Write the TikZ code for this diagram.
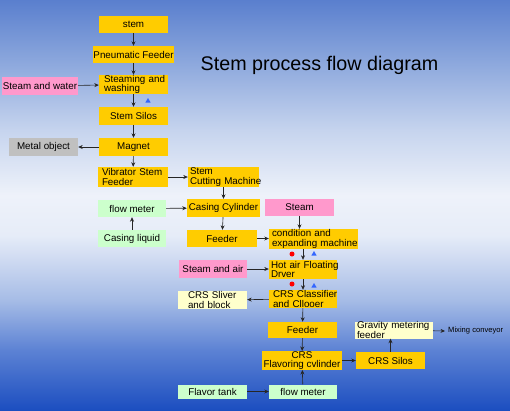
\documentclass[tikz,border=0pt]{standalone}
\usepackage{fontspec}
\setmainfont{Liberation Sans}
\usetikzlibrary{arrows.meta}

\definecolor{procyellow}{HTML}{FFCC00}
\definecolor{steampink}{HTML}{FF99CC}
\definecolor{metergreen}{HTML}{CCFFCC}
\definecolor{paleyellow}{HTML}{FFFFCC}
\definecolor{metalgrey}{HTML}{C0C0C0}
\definecolor{bgtop}{HTML}{5A7FCE}
\definecolor{bgupper}{HTML}{8AA6DC}
\definecolor{bglight}{HTML}{C6D4EE}
\definecolor{bgwhite}{HTML}{EEF2FA}
\definecolor{bgpale}{HTML}{E6ECF8}
\definecolor{bglower}{HTML}{A6BCE6}
\definecolor{bgmid}{HTML}{5C82D4}
\definecolor{bgdeep}{HTML}{1C4EC0}
\definecolor{tipblue}{HTML}{3366FF}

\pgfdeclareverticalshading{bgshade}{100bp}{color(0bp)=(bgdeep); color(25bp)=(bgdeep);
  color(32.3bp)=(bgmid); color(38.4bp)=(bglower); color(46.3bp)=(bgpale);
  color(51.2bp)=(bgwhite); color(59.1bp)=(bglight); color(67.7bp)=(bgupper);
  color(75bp)=(bgtop); color(100bp)=(bgtop)}

\newcommand{\boxfont}{\fontsize{9.8}{9.8}\selectfont\hbadness=10000\hfuzz=100pt}

\tikzset{
  box/.style={fill=procyellow, inner sep=0pt, font=\boxfont, text=black},
  lbox/.style={box, inner xsep=4pt, text width=#1, align=left},
  pinkbox/.style={box, fill=steampink},
  meterbox/.style={box, fill=metergreen},
  palebox/.style={box, fill=paleyellow},
  flow/.style={->, draw=black!85, line width=0.6pt},
  reddot/.style={circle, fill=red, inner sep=0pt, minimum size=5pt},
  bluetip/.style={regular polygon, regular polygon sides=3, fill=tipblue, inner sep=0pt, minimum size=6pt}
}
\usetikzlibrary{shapes.geometric}

\begin{document}
\begin{tikzpicture}[x=1pt, y=-1pt, >={Stealth[length=4.5pt,width=4pt]}]
		%background
		\shade[shading=bgshade] (0,0) rectangle (510,410);
		\useasboundingbox (0,0) rectangle (510,410);
		\node[font=\fontsize{19.7}{22}\selectfont, text=black] (title) at (319.5,65) {Stem process flow diagram};

		%first column
		\node[box, minimum width=69, minimum height=17] (stem) at (133.5,24.5) {stem};
		\node[box, minimum width=81, minimum height=17] (pneu) at (133.5,54.5) {Pneumatic Feeder};
		\node[lbox=59, inner xsep=5pt, minimum height=19] (steaming) at (133.5,84.5) {\mbox{Steaming and}\\washing};
		\node[pinkbox, minimum width=76, minimum height=18] (water) at (40,86) {Steam and water};
		\node[box, minimum width=69, minimum height=18] (silos) at (133.5,116) {Stem Silos};
		\node[box, minimum width=69, minimum height=18] (magnet) at (133.5,147) {Magnet};
		\node[box, fill=metalgrey, minimum width=69, minimum height=18] (metal) at (43.5,147) {Metal object};
		\node[lbox=62, minimum height=20] (vibrator) at (133,177) {\mbox{Vibrator Stem}\\Feeder};
		\node[meterbox, minimum width=68, minimum height=17] (meter) at (132,208.5) {flow meter};
		\node[meterbox, minimum width=68, minimum height=17] (liquid) at (132,238.5) {Casing liquid};

		%second column
		\node[lbox=67, inner xsep=2pt, minimum height=20] (cutting) at (223.5,177) {Stem\\\mbox{Cutting Machine}};
		\node[box, minimum width=73, minimum height=18] (cylinder) at (223.5,208) {Casing Cylinder};
		\node[box, minimum width=70, minimum height=17] (feeder) at (222,238.5) {Feeder};
		\node[pinkbox, minimum width=68, minimum height=18] (air) at (213,269) {Steam and air};
		\node[palebox, inner xsep=10pt, text width=49, align=left, minimum height=18] (sliver) at (212.5,300) {\mbox{CRS Sliver}\\\mbox{and block}};
		\node[meterbox, minimum width=69, minimum height=14] (tank) at (212.5,391.5) {Flavor tank};

		%third column
		\node[pinkbox, minimum width=69, minimum height=17] (steam) at (299.5,207.5) {Steam};
		\node[lbox=83, inner xsep=3pt, minimum height=20] (expand) at (313.5,239) {\mbox{condition and}\\\mbox{expanding machine}};
		\node[lbox=64, inner xsep=2pt, minimum height=19] (dryer) at (303,269.5) {\mbox{Hot air Floating}\\Drver};
		\node[lbox=60, minimum height=18] (classifier) at (303,299) {\mbox{CRS Classifier}\\\mbox{and Cllooer}};
		\node[box, minimum width=69, minimum height=16] (feedertwo) at (302.5,330) {Feeder};
		\node[box, minimum width=80, minimum height=17, align=center] (flavoring) at (302,360.5) {CRS\\Flavoring cvlinder};
		\node[meterbox, minimum width=68, minimum height=14] (metertwo) at (303,391.5) {flow meter};

		%fourth column
		\node[palebox, lbox=74, inner xsep=2pt, fill=paleyellow, minimum height=16] (gravity) at (394,330) {\mbox{Gravity metering}\\feeder};
		\node[box, minimum width=69, minimum height=17] (crssilos) at (390.5,360.5) {CRS Silos};
		\node[anchor=west, inner sep=0pt, font=\fontsize{7.6}{8}\selectfont, text=black] (mixing) at (448,331) {Mixing conveyor};

		%markers
		\node[bluetip] (tipa) at (148,101) {};
		\node[reddot] (dota) at (292,254) {};
		\node[bluetip] (tipb) at (314,254) {};
		\node[reddot] (dotb) at (292,284) {};
		\node[bluetip] (tipc) at (314,286) {};

		%arrows
		\draw[flow] (stem) -- (pneu);
		\draw[flow] (pneu) -- (steaming);
		\draw[flow] (water) -- (steaming);
		\draw[flow] (steaming) -- (silos);
		\draw[flow] (silos) -- (magnet);
		\draw[flow] (magnet) -- (metal);
		\draw[flow] (magnet) -- (vibrator);
		\draw[flow] (vibrator) -- (cutting);
		\draw[flow] (cutting) -- (cylinder);
		\draw[flow] (meter) -- (cylinder);
		\draw[flow] (liquid) -- (meter);
		\draw[flow] (cylinder) -- (feeder);
		\draw[flow] (feeder) -- (feeder -| expand.west);
		\draw[flow] (steam) -- (steam |- expand.north);
		\draw[flow] (dryer |- expand.south) -- (dryer);
		\draw[flow] (air) -- (air -| dryer.west);
		\draw[flow] (dryer) -- (classifier);
		\draw[flow] (classifier) -- (sliver);
		\draw[flow] (classifier) -- (feedertwo);
		\draw[flow] (feedertwo) -- (flavoring);
		\draw[flow] (metertwo) -- (flavoring);
		\draw[flow] (tank) -- (metertwo);
		\draw[flow] (flavoring) -- (crssilos);
		\draw[flow] (crssilos) -- (crssilos |- gravity.south);
		\draw[flow] (gravity) -- ([xshift=-3pt]mixing.west);
	\end{tikzpicture}
\end{document}
